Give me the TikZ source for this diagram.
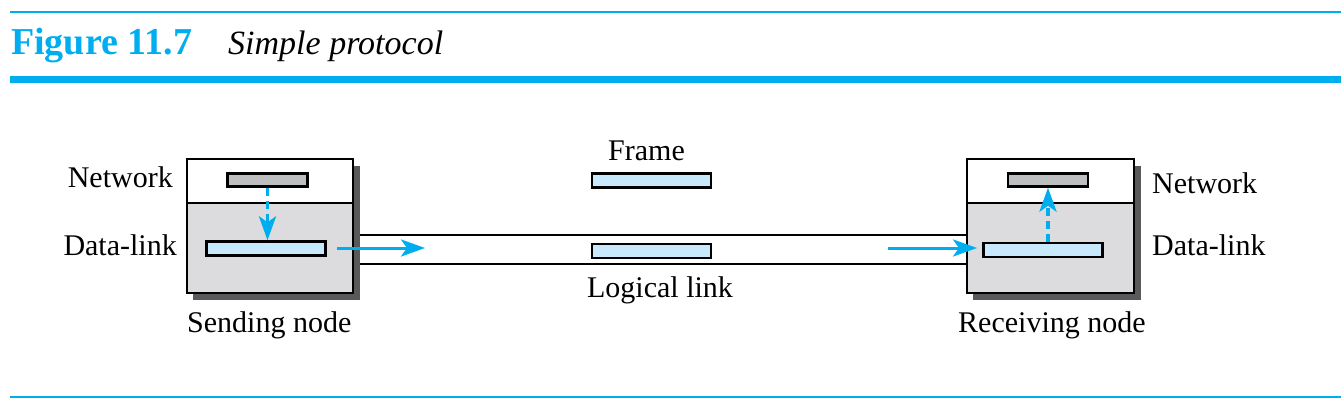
\documentclass[tikz,border=0pt]{standalone}
\usepackage{fontspec}
\setmainfont{Liberation Serif}
\usetikzlibrary{arrows.meta}
\definecolor{cy}{HTML}{00AEEF}
\definecolor{boxgray}{HTML}{DCDCDE}
\definecolor{shadowgray}{HTML}{58595B}
\definecolor{netgray}{HTML}{BDBEC0}
\definecolor{barblue}{HTML}{C7E9FB}
\tikzset{
  lbl/.style={inner sep=0pt, font=\fontsize{30}{34}\selectfont},
  netbar/.style={draw=black, line width=2.3pt, fill=netgray, minimum width=80pt, minimum height=13pt, inner sep=0pt},
  dlbar/.style={draw=black, line width=2.3pt, fill=barblue, minimum width=119pt, minimum height=14pt, inner sep=0pt},
  boxline/.style={draw=black, line width=2.5pt},
  rule/.style={draw=cy},
  flow/.style={draw=cy, line width=3pt, -{Stealth[length=24pt,width=17pt,inset=6pt]}},
  dflow/.style={draw=cy, line width=3.8pt, dash pattern=on 8pt off 5pt, -{Stealth[length=24pt,width=17pt,inset=6pt]}},
  linkline/.style={draw=black, line width=2pt}
}
\begin{document}
\begin{tikzpicture}[x=1pt,y=-1pt]
\useasboundingbox (0,0) rectangle (1341,404);
% rules
\draw[rule, line width=2.5pt] (10,12) -- (1341,12);
\draw[rule, line width=7pt] (10,79.5) -- (1341,79.5);
\draw[rule, line width=2.5pt] (10,397) -- (1341,397);
% title
\node[anchor=base west, inner sep=0pt, text=cy, font=\fontsize{38}{42}\selectfont\bfseries] (fig) at (11,55) {Figure 11.7};
\node[anchor=base west, inner sep=0pt, font=\fontsize{34}{40}\selectfont\itshape] (ttl) at (228,55) {Simple protocol};
% link lines
\draw[linkline] (353,235) -- (967,235);
\draw[linkline] (353,264) -- (967,264);
% left box
\fill[shadowgray] (193,166) rectangle (360,300);
\fill[white] (187,159) rectangle (353,203);
\fill[boxgray] (187,203) rectangle (353,293);
\draw[boxline] (187,159) rectangle (353,293);
\draw[boxline] (187,203) -- (353,203);
% right box
\fill[shadowgray] (973,166) rectangle (1141,300);
\fill[white] (967,159) rectangle (1134,203);
\fill[boxgray] (967,203) rectangle (1134,293);
\draw[boxline] (967,159) rectangle (1134,293);
\draw[boxline] (967,203) -- (1134,203);
% bars
\node[netbar] (lnet) at (267.5,180) {};
\node[dlbar] (ldl) at (266,248.5) {};
\node[netbar] (rnet) at (1048,180) {};
\node[dlbar] (rdl) at (1043,250) {};
\node[dlbar] (frame) at (651.5,180.5) {};
\node[dlbar] (lframe) at (651.5,251) {};
% arrows
\coordinate (lout1) at (337,248);
\coordinate (lout2) at (425,248);
\coordinate (rin1) at (888,248);
\coordinate (rin2) at (977,248);
\draw[flow] (lout1) -- (lout2);
\draw[flow] (rin1) -- (rin2);
\draw[dflow] (lnet.south) -- (lnet.south |- ldl.north);
\draw[dflow] (rnet.south |- rdl.north) -- (rnet.south);
% labels
\node[lbl, anchor=base east] (lnetl) at (173,187) {Network};
\node[lbl, anchor=base east] (ldll) at (177,255) {Data-link};
\node[lbl, anchor=base west] (sn) at (187,332) {Sending node};
\node[lbl, anchor=base west] (rnetl) at (1152,193) {Network};
\node[lbl, anchor=base west] (rdll) at (1152,255) {Data-link};
\node[lbl, anchor=base west] (rn) at (958,332) {Receiving node};
\node[lbl, anchor=base] (framel) at (646.5,160) {Frame};
\node[lbl, anchor=base] (lll) at (660,297) {Logical link};
\end{tikzpicture}
\end{document}
